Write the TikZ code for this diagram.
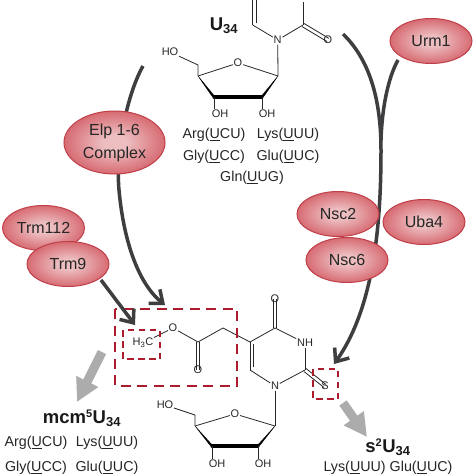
\documentclass[tikz,border=0pt]{standalone}
\usepackage{fontspec}
\setmainfont{Liberation Sans}
\usetikzlibrary{arrows.meta,shapes.geometric,calc}
\definecolor{enzR}{RGB}{192,62,72}
\definecolor{enzO}{RGB}{206,72,82}
\definecolor{enzI}{RGB}{236,190,192}
\definecolor{dkred}{RGB}{172,28,44}
\definecolor{dkarrow}{RGB}{62,62,64}
\definecolor{grayarrow}{RGB}{172,172,172}
\definecolor{bondc}{RGB}{40,40,40}
\pgfdeclareradialshading{enzshade}{\pgfpoint{0bp}{0bp}}{color(0bp)=(enzI); color(6bp)=(enzI); color(33bp)=(enzO); color(50bp)=(enzO)}
\tikzset{
  enzyme/.style={ellipse,minimum width=82pt,minimum height=45pt,inner sep=0pt,draw=enzR,line width=1pt,
    shading=enzshade,font=\fontsize{16}{18}\selectfont,text=black!85,align=center},
  atomlab/.style={inner sep=0.6pt,font=\fontsize{11}{12}\selectfont,text=bondc},
  bond/.style={draw=bondc,line width=0.8pt},
  wedge/.style={fill=black,draw=black,line width=0.3pt},
  heavy/.style={draw=black,line width=3.2pt,line cap=round},
  pathway/.style={draw=dkarrow,line width=3.5pt},
  pathwayhead/.style={pathway,-{Straight Barb[length=11pt,width=18pt,line width=3.5pt]}},
  dbox/.style={draw=dkred,line width=2.3pt,dash pattern=on 10pt off 6.5pt},
  dboxs/.style={draw=dkred,line width=2pt,dash pattern=on 6.5pt off 4.5pt},
  codon/.style={inner sep=0pt,font=\fontsize{14.3}{16}\selectfont,text=black!85},
  title/.style={inner sep=0pt,font=\bfseries\fontsize{18.5}{20}\selectfont,text=black!90},
}
\begin{document}
\begin{tikzpicture}[x=1pt,y=-1pt]
\useasboundingbox (0,0) rectangle (474,474);
\fill[white] (0,0) rectangle (474,474);

% ---- upper nucleoside
\node[atomlab] (uN) at (277.7,40) {N};
\coordinate (uC6) at (252.7,25);
\coordinate (uC5) at (252.7,-4);
\coordinate (uC2) at (303,25);
\node[atomlab] (uO2) at (328,40) {O};
\node[atomlab] (uNH) at (303,-3) {NH};
\draw[bond] (uN) -- (uC6);
\draw[bond] (uC6) -- (uC5);
\draw[bond] ($(uC6)+(3.5,-2)$) -- ($(uC5)+(3.5,0)$);
\draw[bond] (uN) -- (uC2);
\draw[bond] (uC2) -- (uNH);
\draw[bond] ($(uC2)+(0.9,-1.6)$) -- ($(uO2)+(0.9,-1.6)$);
\draw[bond] ($(uC2)+(-0.9,1.6)$) -- ($(uO2)+(-0.9,1.6)$);
\node[atomlab] (uO) at (238,63) {O};
\coordinate (uC1) at (278,76);
\coordinate (uC4) at (198,76);
\coordinate (uC3) at (214,97);
\coordinate (uC2p) at (262,97);
\coordinate (uC5p) at (198,65);
\node[atomlab] (uHO) at (170,52) {HO};
\node[atomlab] (uOH1) at (220,114) {OH};
\node[atomlab] (uOH2) at (267,114) {OH};
\draw[bond] (uN) -- (uC1);
\draw[bond] (uC1) -- (uO);
\draw[bond] (uO) -- (uC4);
\draw[bond] (uC4) -- (uC5p) -- (uHO);
\fill[wedge] (uC4) -- ($(uC3)+(-2.2,-1)$) -- ($(uC3)+(2.6,1.6)$) -- cycle;
\fill[wedge] (uC1) -- ($(uC2p)+(2.2,-1)$) -- ($(uC2p)+(-2.6,1.6)$) -- cycle;
\draw[heavy] (uC3) -- (uC2p);
\draw[bond] (uC3) -- (uC3 |- uOH1.north);
\draw[bond] (uC2p) -- (uC2p |- uOH2.north);

\node[title] (uLab) at (224,26) {U\textsubscript{\fontsize{13}{13}\selectfont 34}};
\node[codon] (c1) at (214,135) {Arg(\underline{U}CU)};
\node[codon] (c2) at (288,135) {Lys(\underline{U}UU)};
\node[codon] (c3) at (214,157) {Gly(\underline{U}CC)};
\node[codon] (c4) at (288,157) {Glu(\underline{U}UC)};
\node[codon] (c5) at (252,178) {Gln(\underline{U}UG)};

% ---- lower nucleoside
\node[atomlab] (lO4) at (275,299) {O};
\coordinate (lC4) at (275,328);
\node[atomlab] (lNH) at (305,343) {NH};
\coordinate (lC2) at (305,370);
\node[atomlab] (lN) at (275,386) {N};
\coordinate (lC6) at (250,370);
\coordinate (lC5) at (250,342);
\coordinate (lCH2) at (223,328);
\coordinate (lCe) at (198,342);
\node[atomlab] (lOd) at (198,370) {O};
\node[atomlab] (lOe) at (173,328) {O};
\node[atomlab] (lMe) at (143,343) {H\textsubscript{3}C};
\node[atomlab] (lS) at (325,386) {S};
\draw[bond] ($(lC4)+(-1.7,0)$) -- ($(lO4)+(-1.7,0)$);
\draw[bond] ($(lC4)+(1.7,0)$) -- ($(lO4)+(1.7,0)$);
\draw[bond] (lC4) -- (lNH);
\draw[bond] (lNH) -- (lC2);
\draw[bond] (lC2) -- (lN);
\draw[bond] (lN) -- (lC6);
\draw[bond] (lC6) -- (lC5);
\draw[bond] ($(lC6)+(3.5,-3)$) -- ($(lC5)+(3.5,2)$);
\draw[bond] (lC5) -- (lC4);
\draw[bond] (lC5) -- (lCH2) -- (lCe);
\draw[bond] ($(lCe)+(-1.7,0)$) -- ($(lOd)+(-1.7,0)$);
\draw[bond] ($(lCe)+(1.7,0)$) -- ($(lOd)+(1.7,0)$);
\draw[bond] (lCe) -- (lOe);
\draw[bond] (lOe) -- (lMe);
\draw[bond] ($(lC2)+(0.9,-1.6)$) -- ($(lS)+(0.9,-1.6)$);
\draw[bond] ($(lC2)+(-0.9,1.6)$) -- ($(lS)+(-0.9,1.6)$);

\node[atomlab] (lO) at (235,414) {O};
\coordinate (lC1p) at (275,426);
\coordinate (lC4p) at (195,426);
\coordinate (lC3p) at (212,446);
\coordinate (lC2p) at (258,446);
\coordinate (lC5p) at (195,415);
\node[atomlab] (lHO) at (165,405) {HO};
\node[atomlab] (lOH1) at (217,464) {OH};
\node[atomlab] (lOH2) at (263,464) {OH};
\draw[bond] (lN) -- (lC1p);
\draw[bond] (lC1p) -- (lO);
\draw[bond] (lO) -- (lC4p);
\draw[bond] (lC4p) -- (lC5p) -- (lHO);
\fill[wedge] (lC4p) -- ($(lC3p)+(-2.2,-1)$) -- ($(lC3p)+(2.6,1.6)$) -- cycle;
\fill[wedge] (lC1p) -- ($(lC2p)+(2.2,-1)$) -- ($(lC2p)+(-2.6,1.6)$) -- cycle;
\draw[heavy] (lC3p) -- (lC2p);
\draw[bond] (lC3p) -- (lC3p |- lOH1.north);
\draw[bond] (lC2p) -- (lC2p |- lOH2.north);

% ---- dashed boxes
\draw[dbox] (115,309) rectangle (237,386);
\draw[dboxs] (123,330) rectangle (160,359);
\draw[dboxs] (313,369) rectangle (338,399);

% ---- pathways (under the enzymes)
\coordinate (elpS) at (143,66);
\coordinate (elpT) at (165,305);
\coordinate (rS) at (343,34);
\coordinate (rT) at (334,364);
\coordinate (urmS) at (398,60);
\coordinate (urmJ) at (381,140);
\coordinate (trmS) at (101,280);
\coordinate (trmT) at (135,325);
\draw[pathwayhead] (elpS) .. controls (124,100) and (116,160) .. (119,190)
   .. controls (124,245) and (140,285) .. (elpT);
\draw[pathwayhead] (rS) .. controls (372,62) and (381,105) .. (381,150)
   .. controls (381,215) and (376,305) .. (rT);
\draw[pathway] (urmS) .. controls (388,78) and (382,108) .. (urmJ);
\draw[pathwayhead] (trmS) -- (trmT);

% ---- enzymes
\node[enzyme,minimum width=101pt,minimum height=63pt] (elp) at (114.5,142.5) {Elp 1-6\\[5pt]Complex};
\node[enzyme] (trm112) at (43.5,228) {Trm112};
\node[enzyme] (trm9) at (68,264) {Trm9};
\node[enzyme] (urm1) at (431,41) {Urm1};
\node[enzyme] (nsc2) at (338,214) {Nsc2};
\node[enzyme] (uba4) at (424,222) {Uba4};
\node[enzyme] (nsc6) at (347,260) {Nsc6};

% ---- gray arrows
\coordinate (gLs) at (102,352);
\coordinate (gLt) at (77,402);
\coordinate (gRs) at (343,403);
\coordinate (gRt) at (367,437);
\draw[grayarrow,line width=9pt,-{Triangle[length=23pt,width=23pt]}] (gLs) -- (gLt);
\draw[grayarrow,line width=9pt,-{Triangle[length=23pt,width=23pt]}] (gRs) -- (gRt);

% ---- product labels
\node[title] (mcm) at (82,418) {mcm\textsuperscript{\fontsize{11}{11}\selectfont 5}U\textsubscript{\fontsize{13}{13}\selectfont 34}};
\node[codon] (m1) at (36,443) {Arg(\underline{U}CU)};
\node[codon] (m2) at (107,443) {Lys(\underline{U}UU)};
\node[codon] (m3) at (36,468) {Gly(\underline{U}CC)};
\node[codon] (m4) at (107,468) {Glu(\underline{U}UC)};
\node[title] (s2) at (388,447) {s\textsuperscript{\fontsize{11}{11}\selectfont 2}U\textsubscript{\fontsize{13}{13}\selectfont 34}};
\node[codon] (s1) at (388,468) {Lys(\underline{U}UU) Glu(\underline{U}UC)};
\end{tikzpicture}
\end{document}
